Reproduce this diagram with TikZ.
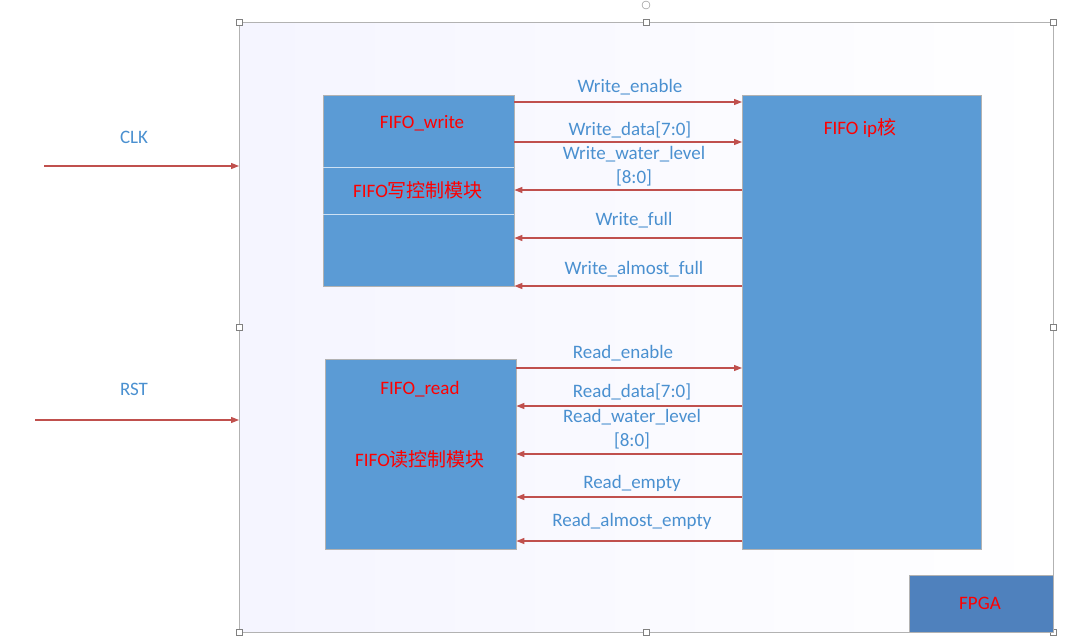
\documentclass[tikz,border=0pt]{standalone}
\usepackage{fontspec}
\setmainfont{Carlito}
\newfontfamily\cjk{Noto Sans CJK SC}
\usetikzlibrary{arrows.meta}
\definecolor{boxb}{HTML}{5B9BD5}
\definecolor{fpgab}{HTML}{4F81BD}
\definecolor{arr}{HTML}{C0504D}
\definecolor{lbl}{HTML}{4A90D0}
\begin{document}
\begin{tikzpicture}[x=1pt,y=-1pt,
  blk/.style={draw=gray!60,fill=boxb,inner sep=0,anchor=north west},
  red/.style={text=red,font=\fontsize{19}{22}\selectfont},
  lab/.style={text=lbl,font=\fontsize{19}{24}\selectfont,align=center},
  arrw/.style={draw=arr,line width=1.2pt,-{Triangle[length=8pt,width=6pt]}},
  hdl/.style={draw=gray,fill=white,minimum size=6pt,inner sep=0}]
\useasboundingbox (0,0) rectangle (1069,643);
\shade[left color=blue!4,right color=white] (239,22) rectangle (1053,632);
\draw[gray!60] (239,22) rectangle (1053,632);
\foreach \p/\n in {{239,22}/h1,{646,22}/h2,{1053,22}/h3,{239,327}/h4,{1053,327}/h5,{239,632}/h6,{646,632}/h7,{1053,632}/h8}
  \node[hdl] (\n) at (\p) {};
\draw[gray] (646,5) circle (4);
\node[blk,minimum width=191,minimum height=191] (w) at (323,95) {};
\draw[white!70!boxb] (323,167) -- (514,167) (323,214) -- (514,214);
\node[blk,minimum width=191,minimum height=190] (r) at (325,359) {};
\node[blk,minimum width=239,minimum height=454] (ip) at (742,95) {};
\node[draw=gray!60,fill=fpgab,inner sep=0,anchor=north west,minimum width=144,minimum height=57] (fp) at (909,575) {};
\node[red] at (422,123) {FIFO\_write};
\node[red] at (418,190) {FIFO{\cjk 写控制模块}};
\node[red] at (420,389) {FIFO\_read};
\node[red] at (420,459) {FIFO{\cjk 读控制模块}};
\node[red] at (860,128) {FIFO ip{\cjk 核}};
\node[red] at (980,603) {FPGA};
% write side
\foreach \y/\t/\ly in {102/Write\_enable/87, 142/Write\_data[7:0]/130}
  {\draw[arrw] (w.east |- 0,\y) -- (ip.west |- 0,\y); \node[lab] at (630,\ly) {\t};}
\foreach \y/\t/\ly in {190/{Write\_water\_level\\{}[8:0]}/166, 238/Write\_full/220, 286/Write\_almost\_full/269}
  {\draw[arrw] (ip.west |- 0,\y) -- (w.east |- 0,\y); \node[lab] at (634,\ly) {\t};}
% read side
\draw[arrw] (r.east |- 0,368) -- (ip.west |- 0,368); \node[lab] at (623,353) {Read\_enable};
\foreach \y/\t/\ly in {406/Read\_data[7:0]/392, 454/{Read\_water\_level\\{}[8:0]}/429, 497/Read\_empty/483, 541/Read\_almost\_empty/521}
  {\draw[arrw] (ip.west |- 0,\y) -- (r.east |- 0,\y); \node[lab] at (632,\ly) {\t};}
\coordinate (clk) at (44,166);
\coordinate (rst) at (35,420);
\draw[arrw] (clk) -- (h4 |- clk);
\draw[arrw] (rst) -- (h4 |- rst);
\node[lab] at (134,137) {CLK};
\node[lab] at (134,389) {RST};
\end{tikzpicture}
\end{document}
